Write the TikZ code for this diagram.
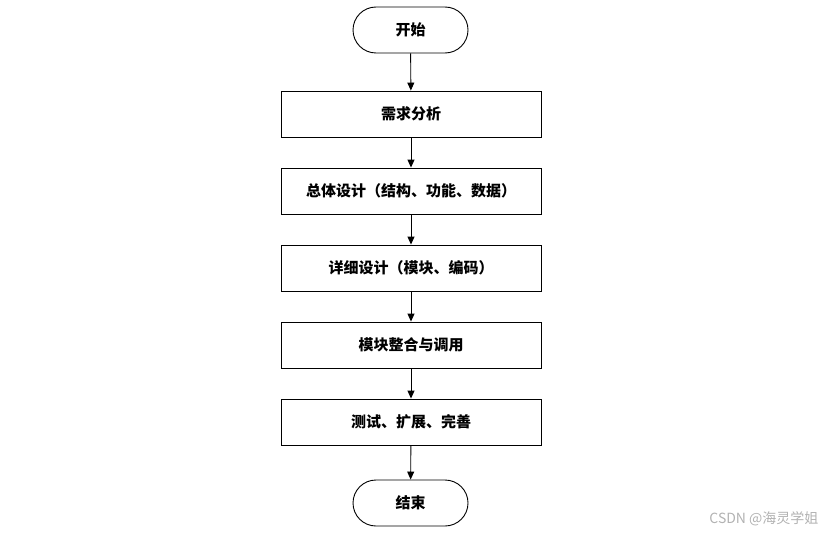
\documentclass[tikz,border=0pt]{standalone}
\usepackage{fontspec}
\newfontfamily\cjk{Noto Sans CJK SC}
\usetikzlibrary{arrows.meta}
\begin{document}
\begin{tikzpicture}[x=1pt,y=-1pt,
  box/.style={draw,line width=0.9pt,minimum width=260pt,minimum height=46pt,font=\cjk\bfseries\fontsize{15}{17}\selectfont},
  term/.style={draw,line width=0.9pt,rounded corners=23pt,minimum width=115pt,minimum height=46pt,font=\cjk\bfseries\fontsize{15}{17}\selectfont},
  arr/.style={-{Triangle[length=8pt,width=7pt]},line width=0.9pt}]
\useasboundingbox (0,0) rectangle (832,535);
\node[term] (s) at (410.5,30) {开始};
\node[box] (b1) at (411,114) {需求分析};
\node[box] (b2) at (411,191) {总体设计（结构、功能、数据）};
\node[box] (b3) at (411,268) {详细设计（模块、编码）};
\node[box] (b4) at (411,345) {模块整合与调用};
\node[box] (b5) at (411,422) {测试、扩展、完善};
\node[term] (e) at (410.5,503) {结束};
\draw[arr] (s) -- (b1);
\draw[arr] (b1) -- (b2);
\draw[arr] (b2) -- (b3);
\draw[arr] (b3) -- (b4);
\draw[arr] (b4) -- (b5);
\draw[arr] (b5) -- (e);
\node[text=gray!60,font=\cjk\fontsize{14}{16}\selectfont,anchor=east] (w) at (822,519) {CSDN @海灵学姐};
\end{tikzpicture}
\end{document}
